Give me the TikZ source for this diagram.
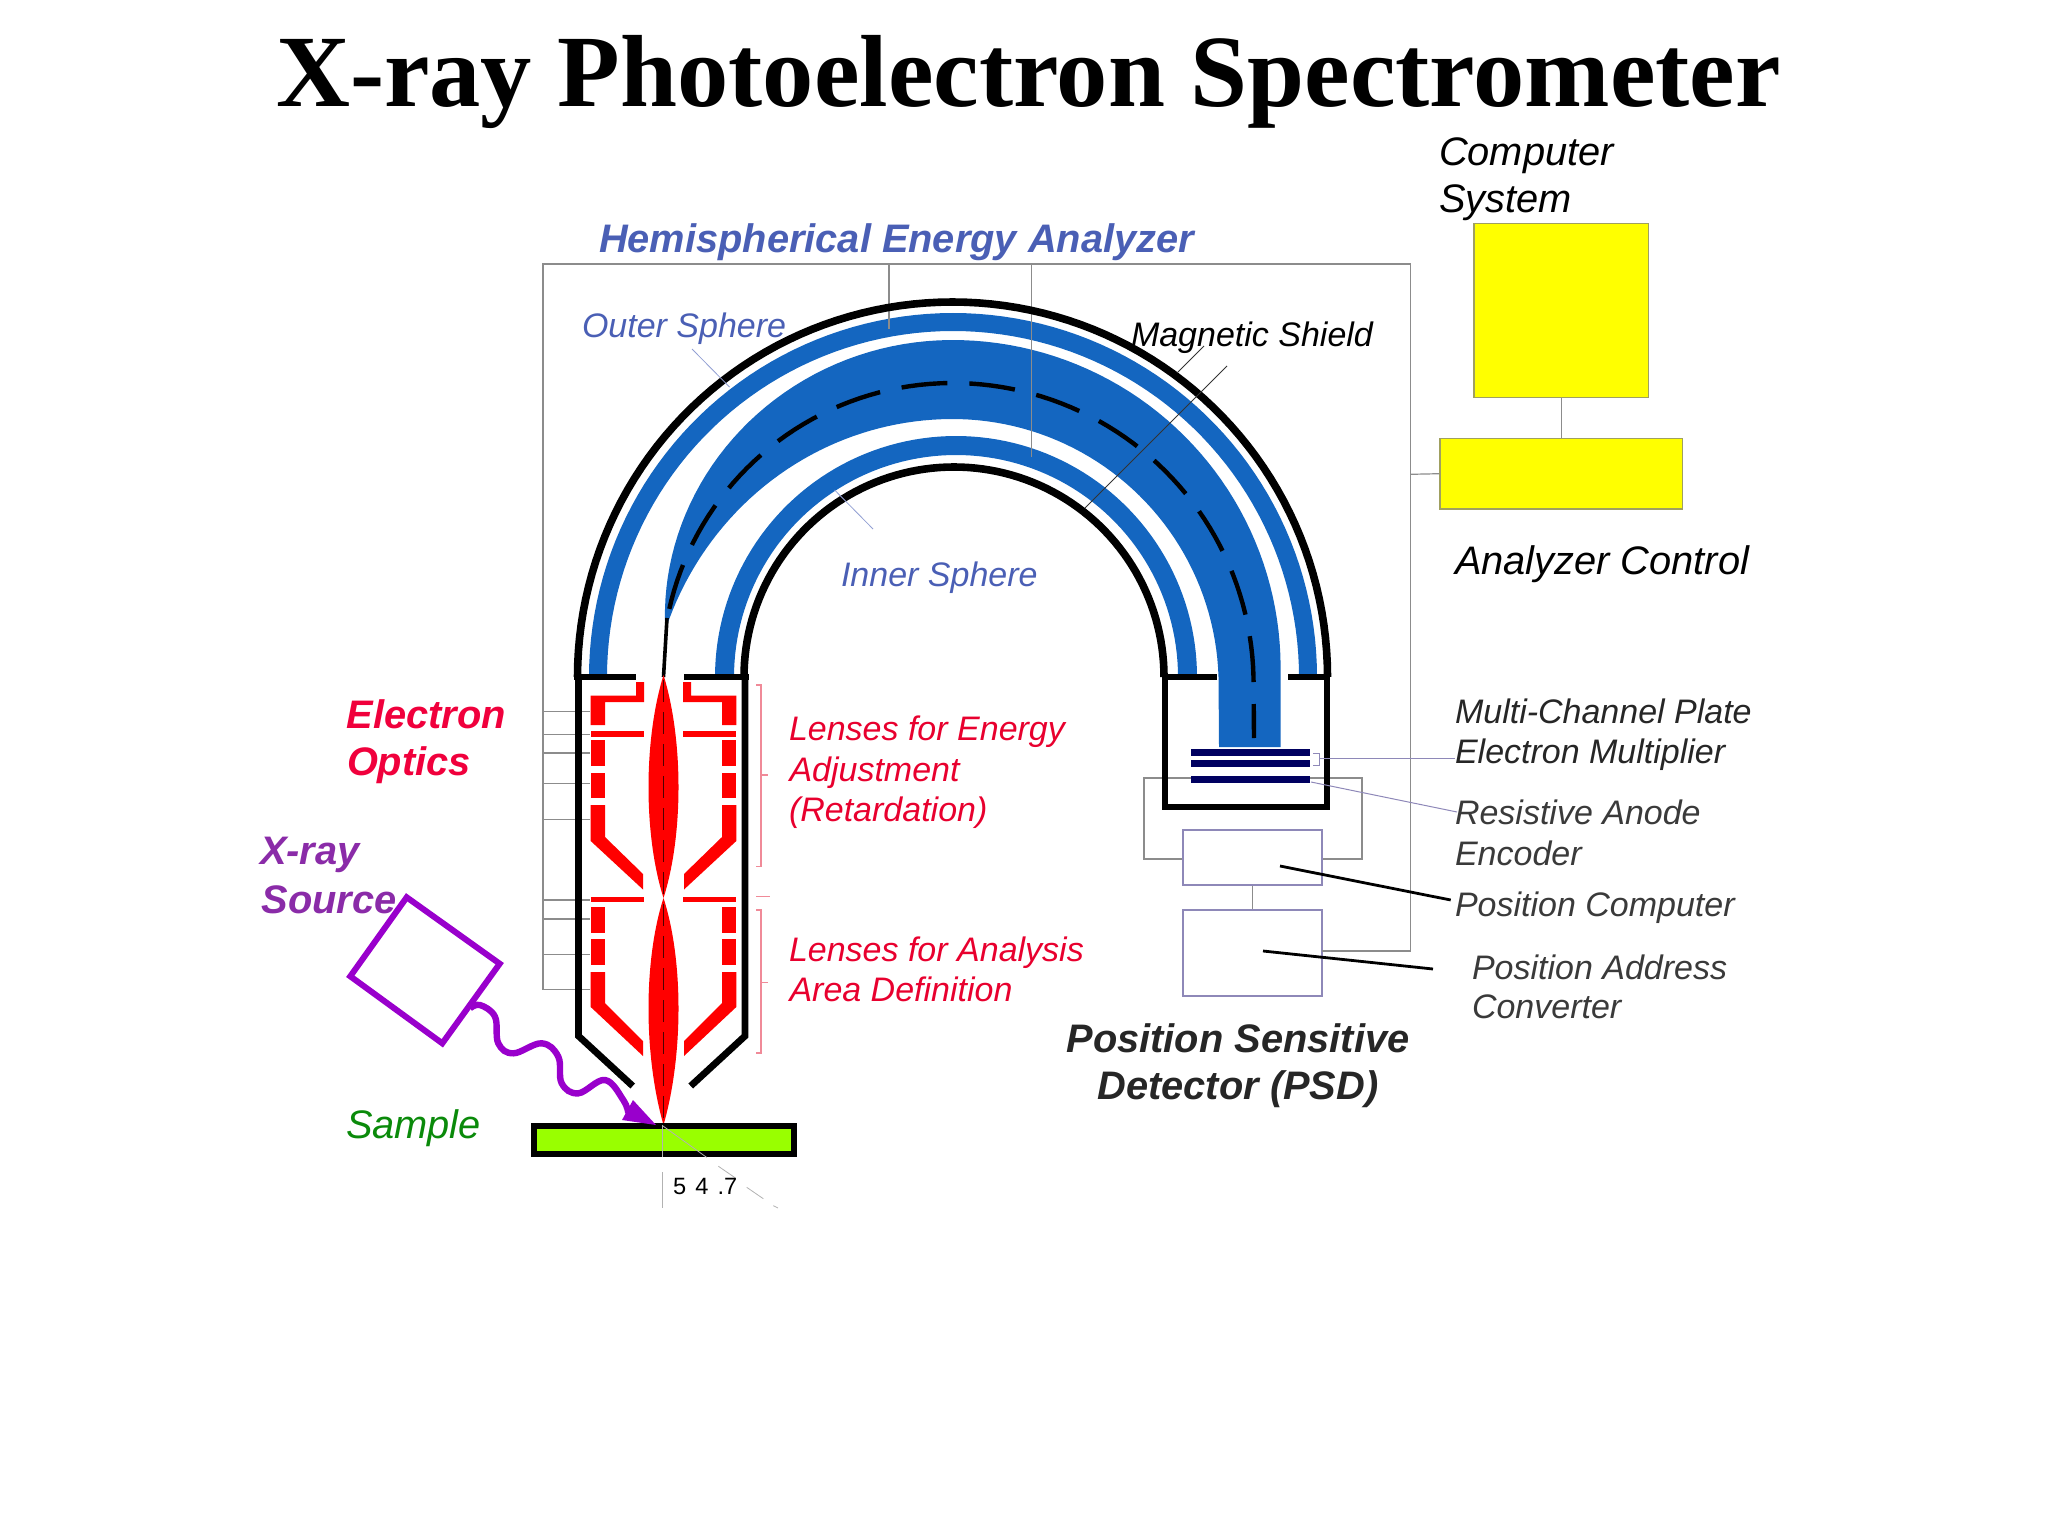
\documentclass[tikz,border=0pt]{standalone}
\usepackage{fontspec}
\setmainfont{Liberation Sans}
\newfontfamily\titlefont{Liberation Serif}
\definecolor{bandblue}{HTML}{1466C0}
\definecolor{leadgray}{HTML}{8C8C8C}
\definecolor{psdline}{HTML}{8E88B8}
\definecolor{labblue}{HTML}{4A5FB5}
\definecolor{labred}{HTML}{E8002E}
\definecolor{hotred}{HTML}{F0003C}
\definecolor{brack}{HTML}{F08A98}
\definecolor{xpurple}{HTML}{9900CC}
\definecolor{labpurple}{HTML}{8A2BA8}
\definecolor{labgreen}{HTML}{0A8A0A}
\definecolor{lime}{HTML}{99FF00}
\definecolor{plate}{HTML}{000060}
\definecolor{olive}{HTML}{A0A060}
\definecolor{dim}{HTML}{3A3A3A}
\definecolor{pureyellow}{rgb}{1,1,0}
\newcommand{\fs}[1]{\fontsize{#1pt}{#1pt}\selectfont}
\tikzset{
  lab/.style={anchor=base west,inner sep=0pt,outer sep=0pt},
  it17/.style={lab,font=\fs{17}\itshape},
  bit20/.style={lab,font=\fs{19.9}\bfseries\itshape},
  it20/.style={lab,font=\fs{19.9}\itshape},
  lead/.style={draw=leadgray,line width=.6pt},
  psdbox/.style={draw=psdline,line width=.7pt,fill=white,inner sep=0pt},
  yellowbox/.style={draw=olive,line width=.7pt,fill=pureyellow,inner sep=0pt},
  shield/.style={draw=black,line width=3.8pt},
  electrode/.style={fill=red,draw=none},
  pointer/.style={draw=black,line width=1.4pt},
  brk/.style={draw=brack,line width=.55pt},
  declare function={
    tt(\a)=max(\a-90,0)/80.7;
    ro(\a)=(\a>90)?(337-46*tt(\a)^2):(328+9*sin(\a));
    ri(\a)=(\a>90)?(258+33*tt(\a)^2):(266-8*sin(\a));
    rd(\a)=(\a>90)?(294-3*tt(\a)^2):(301-7*sin(\a));
  }
}
\begin{document}
\begin{tikzpicture}[x=0.5pt,y=-0.5pt]
\useasboundingbox (0,0) rectangle (2048,1535);
% title
\node[lab,font=\titlefont\fs{51.25}\bfseries] (title) at (276,107) {X-ray Photoelectron Spectrometer};
% blue bands
\fill[bandblue] plot[domain=0:180,samples=91] ({953+364*cos(\x)},{677-364*sin(\x)})
   -- plot[domain=180:0,samples=91] ({953+346*cos(\x)},{677-346*sin(\x)}) -- cycle;
\fill[bandblue] plot[domain=0:180,samples=91] ({956+241*cos(\x)},{677-241*sin(\x)})
   -- plot[domain=180:0,samples=91] ({956+222*cos(\x)},{677-222*sin(\x)}) -- cycle;
\fill[bandblue] (1219,747) -- (1280.5,747)
   -- plot[domain=0:170.7,samples=86] ({952.5+ro(\x)*cos(\x)},{677-ro(\x)*sin(\x)})
   -- plot[domain=170.7:0,samples=86] ({952.5+ri(\x)*cos(\x)},{677-ri(\x)*sin(\x)}) -- cycle;
% mean path
\draw[black,line width=2.2pt,dash pattern=on 23pt off 11pt,dash phase=6pt]
   (1254,738) -- plot[domain=0:170.7,samples=86] ({952.5+rd(\x)*cos(\x)},{677-rd(\x)*sin(\x)});
\draw[black,line width=1.8pt] (667,618) -- (663.5,677);
% frame wiring
\coordinate (fa) at (1322,951);
\coordinate (fb) at (1410.7,951);
\coordinate (fc) at (1410.7,264);
\coordinate (fd) at (543,264);
\coordinate (fe) at (543,989.4);
\coordinate (ff) at (590,989.4);
\coordinate (fg) at (1410.7,474.3);
\draw[lead] (fa) -- (fb) -- (fc) -- (fd) -- (fe) -- (ff);
\coordinate (v1a) at (889,264); \coordinate (v1b) at (889,329);
\coordinate (v2a) at (1031.5,264); \coordinate (v2b) at (1031.5,457);
\draw[lead] (v1a) -- (v1b);
\draw[lead] (v2a) -- (v2b);
\foreach \yy in {711.6,734.5,753,783.5,819.5,900,919,954.6}{
  \draw[lead] (543,\yy) -- (590,\yy);
}
% PSD wiring loop
\draw[lead] (1191,778) -- (1144,778) -- (1144,859) -- (1183,859);
\draw[lead] (1310,778) -- (1362,778) -- (1362,859) -- (1322,859);
% lens beam
\fill[red] (663.5,675) .. controls (643.5,740) and (643.5,835) .. (663.5,898)
   .. controls (683.5,835) and (683.5,740) .. (663.5,675) -- cycle;
\fill[red] (663.5,898) .. controls (643.5,960) and (643.5,1055) .. (663.5,1125)
   .. controls (683.5,1055) and (683.5,960) .. (663.5,898) -- cycle;
\draw[black!70!red,line width=.3pt,dash pattern=on 11pt off 5pt] (663.5,680) -- (663.5,1125);
% electrodes, left and mirrored right
\foreach \s/\o in {1/0,-1/1327}{
\begin{scope}[shift={(\o,0)},x=\s*0.5pt]
  \fill[electrode] (644,682) -- (636,682) -- (636,695.5) -- (590.7,695.5) -- (590.7,725) -- (605,725) -- (605,702) -- (644,702) -- cycle;
  \fill[electrode] (590.7,731) rectangle (644,736.5);
  \fill[electrode] (590.7,740) rectangle (605,766);
  \fill[electrode] (590.7,773) rectangle (605,798);
  \fill[electrode] (590.7,805) -- (605,805) -- (605,837) -- (643,874) -- (643,889.5) -- (590.7,841) -- cycle;
  \fill[electrode] (590.7,897) rectangle (644,902);
  \fill[electrode] (590.7,907) rectangle (605,933);
  \fill[electrode] (590.7,939) rectangle (605,965);
  \fill[electrode] (590.7,972) -- (605,972) -- (605,1003) -- (643,1041) -- (643,1056) -- (590.7,1007) -- cycle;
\end{scope}
}
% magnetic shield
\draw[shield] plot[domain=0:180,samples=91] ({952.5+375*cos(\x)},{677-375*sin(\x)});
\draw[shield] plot[domain=0:180,samples=91] ({954+210*cos(\x)},{677-210*sin(\x)});
\draw[black,line width=3.2pt] (574,677) -- (636,677);
\draw[black,line width=3.2pt] (684,677) -- (748.5,677);
\draw[black,line width=3.4pt] (578.5,677) -- (578.5,1036) -- (632.7,1086);
\draw[black,line width=3.4pt] (745,677) -- (745,1036) -- (690.7,1086);
\draw[black,line width=3pt] (1162,677) -- (1217,677);
\draw[black,line width=3pt] (1288,677) -- (1330,677);
\draw[black,line width=3pt] (1165,677) -- (1165,807) -- (1327,807) -- (1327,677);
% MCP plates
\fill[plate] (1191,749) rectangle (1310,756);
\fill[plate] (1191,760) rectangle (1310,767);
\fill[plate] (1191,776) rectangle (1310,783);
\draw[draw=psdline,line width=.5pt] (1313,753) -- (1319,753) -- (1319,765) -- (1313,765);
% sample
\node[draw=black,fill=lime,line width=3pt,minimum width=130pt,minimum height=14pt,inner sep=0pt] (sample) at (663.5,1140) {};
% angle marks
\draw[draw=black!30,line width=.4pt] (662.7,1125) -- (662.7,1157);
\draw[draw=black!30,line width=.4pt] (662.7,1172) -- (662.7,1207.5);
\foreach \ax/\ay/\bx/\by in {663/1126/706.7/1157.4,718.3/1166.2/735/1177.7,746.7/1187.3/763.3/1198.7,773.3/1205.7/778/1208}{
  \draw[draw=black!30,line width=.4pt] (\ax,\ay) -- (\bx,\by);
}
\node[lab,font=\fs{11.8}] (angle) at (673,1194) {\spaceskip=4.6pt 5 4 .7};
% x-ray source
\draw[draw=xpurple,line width=3pt,line join=miter] (406.7,897.3) -- (499.7,963.7) -- (442.3,1043.3) -- (350.3,976.3) -- cycle;
\draw[draw=xpurple,line width=3.2pt] plot[smooth,tension=.65] coordinates {(470,1008.3) (480,1005) (495,1016.7) (498.3,1043.3) (513.3,1053.3) (541.7,1043.3) (558.3,1056.7) (561.7,1083.3) (578.3,1093.3) (605,1080) (623.3,1100) (628.3,1113)};
\fill[xpurple] (656,1125) -- (633,1100) -- (622,1120) -- cycle;
% brackets
\draw[brk] (756,685) -- (761,685) -- (761,866.5) -- (756,866.5);
\draw[brk] (761,775) -- (768,775);
\draw[brk] (756,896.4) -- (770,896.4);
\draw[brk] (756,910) -- (761,910) -- (761,1053) -- (756,1053);
\draw[brk] (761,982.5) -- (768,982.5);
% boxes
\node[yellowbox,minimum width=87.2pt,minimum height=87pt] (comp) at (1561.2,310.3) {};
\node[yellowbox,minimum width=121.2pt,minimum height=35.4pt] (ctrl) at (1561.2,473.7) {};
\node[psdbox,minimum width=69.5pt,minimum height=27.5pt] (pc) at (1252.5,857.5) {};
\node[psdbox,minimum width=69.5pt,minimum height=43pt] (pac) at (1252.5,953) {};
\draw[lead] (comp.south) -- (ctrl.north);
\draw[lead] (ctrl.west) -- (fg);
\draw[lead] (pc.south) -- (pac.north);
\draw[lead] (fa) -- (fb);
% labels
\node[bit20,text=labblue] (hem) at (599,253) {Hemispherical Energy Analyzer};
\node[it17,text=labblue] (outer) at (582,337) {Outer Sphere};
\node[it17,text=labblue] (inner) at (841,586.3) {Inner Sphere};
\node[it17,text=black] (mag) at (1131,346.3) {Magnetic Shield};
\node[it20,text=black] (cs1) at (1439,165.5) {Computer};
\node[it20,text=black] (cs2) at (1439,213) {System};
\node[it20,text=black] (ac) at (1455,574.3) {Analyzer Control};
\node[bit20,text=hotred] (eo1) at (346.7,728) {Electron};
\node[bit20,text=hotred] (eo2) at (347,775) {Optics};
\node[bit20,text=labpurple] (xs1) at (260,864.3) {X-ray};
\node[bit20,text=labpurple] (xs2) at (261.7,913) {Source};
\node[it20,text=labgreen] (smp) at (346,1138) {Sample};
\node[it17,text=labred] (l1) at (789,740) {Lenses for Energy};
\node[it17,text=labred] (l2) at (789.5,781) {Adjustment};
\node[it17,text=labred] (l3) at (789,821) {(Retardation)};
\node[it17,text=labred] (l4) at (789,961.5) {Lenses for Analysis};
\node[it17,text=labred] (l5) at (789.5,1001.6) {Area Definition};
\node[it17,text=black!85] (m1) at (1455,723) {Multi-Channel Plate};
\node[it17,text=black!85] (m2) at (1455,763) {Electron Multiplier};
\node[it17,text=dim] (r1) at (1455,824.3) {Resistive Anode};
\node[it17,text=dim] (r2) at (1455,865) {Encoder};
\node[it17,text=dim] (pc1) at (1455,916.3) {Position Computer};
\node[it17,text=dim] (pa1) at (1472,979) {Position Address};
\node[it17,text=dim] (pa2) at (1472,1018) {Converter};
\node[bit20,text=black!85,anchor=base] (psd1) at (1238,1052.3) {Position Sensitive};
\node[bit20,text=black!85,anchor=base] (psd2) at (1238,1099) {Detector (PSD)};
% leaders
\coordinate (o1) at (692,349); \coordinate (o2) at (729.5,387);
\draw[draw=labblue!60,line width=.4pt] (o1) -- (o2);
\coordinate (i1) at (834.6,490); \coordinate (i2) at (873,529);
\draw[draw=labblue!60,line width=.4pt] (i1) -- (i2);
\coordinate (g1) at (1204,346); \coordinate (g2) at (1177,373);
\draw[draw=black!80,line width=.4pt] (g1) -- (g2);
\coordinate (g3) at (1227,366); \coordinate (g4) at (1085,508);
\draw[draw=black!80,line width=.4pt] (g3) -- (g4);
\coordinate (b1) at (1319,758);
\draw[draw=psdline,line width=.45pt] (b1) -- (m2.west |- b1);
\coordinate (b2) at (1311,782); \coordinate (b3) at (1457,812);
\draw[draw=psdline,line width=.5pt] (b2) -- (b3);
\coordinate (p1) at (1280,866); \coordinate (p2) at (1450.7,900);
\draw[pointer] (p1) -- (p2);
\coordinate (p3) at (1263,951); \coordinate (p4) at (1433,969);
\draw[pointer] (p3) -- (p4);
\end{tikzpicture}
\end{document}
